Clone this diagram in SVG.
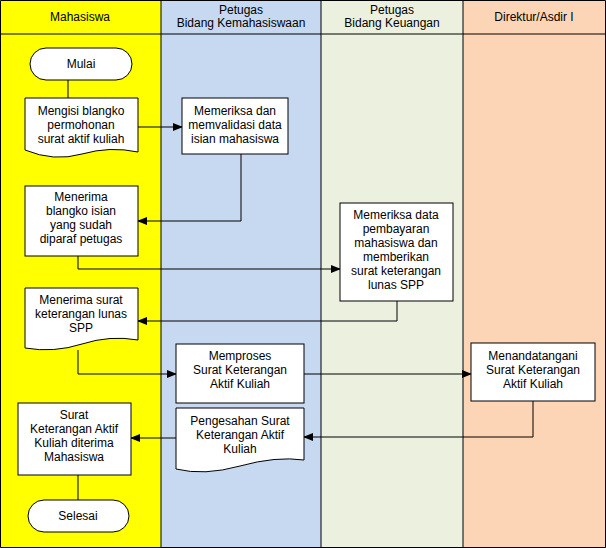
<svg xmlns="http://www.w3.org/2000/svg" width="606" height="548" viewBox="0 0 606 548">
<defs>
<style>
.b{fill:#fff;stroke:#000;stroke-width:1}
.t{font-family:"Liberation Sans",Arial,sans-serif;font-size:12px;text-anchor:middle;fill:#000}
.c{fill:none;stroke:#000;stroke-width:1}
</style>
<marker id="a" markerWidth="10" markerHeight="8" refX="9" refY="4" orient="auto" markerUnits="userSpaceOnUse"><path d="M0,0L10,4L0,8z" fill="#000"/></marker>
</defs>
<g id="lanes">
<rect x="0" y="0" width="161" height="548" fill="#ffff00"/>
<rect x="161" y="0" width="160" height="548" fill="#c6d9f1"/>
<rect x="321" y="0" width="142" height="548" fill="#ebf1de"/>
<rect x="463" y="0" width="143" height="548" fill="#fbd5b5"/>
<path d="M0.5,0.5H605.5V547.5H0.5Z M0,34H606 M161,0V548 M321,0V548 M463,0V548" class="c"/>
<text class="t" x="80" y="21">Mahasiswa</text>
<text class="t" x="241" y="14">Petugas</text><text class="t" x="241" y="27">Bidang Kemahasiswaan</text>
<text class="t" x="392" y="14">Petugas</text><text class="t" x="392" y="27">Bidang Keuangan</text>
<text class="t" x="534" y="21">Direktur/Asdir I</text>
</g>
<g id="connectors">
<path class="c" d="M68,80V98"/>
<path class="c" d="M138,127H182" marker-end="url(#a)"/>
<path class="c" d="M241,154V221H138" marker-end="url(#a)"/>
<path class="c" d="M78,256V269H340" marker-end="url(#a)"/>
<path class="c" d="M397,301V321H138" marker-end="url(#a)"/>
<path class="c" d="M78,350V374H176" marker-end="url(#a)"/>
<path class="c" d="M304,374H471" marker-end="url(#a)"/>
<path class="c" d="M533,401V437H304" marker-end="url(#a)"/>
<path class="c" d="M176,438H131" marker-end="url(#a)"/>
<path class="c" d="M78,475V500"/>
</g>
<g id="mulai"><rect class="b" x="30" y="48" width="102" height="32" rx="16"/><text class="t" x="81" y="68">Mulai</text></g>
<g id="mengisi"><path class="b" d="M25,98H138V152Q110,146 82,154T25,150Z"/><text class="t" x="81" y="115">Mengisi blangko</text><text class="t" x="81" y="129">permohonan</text><text class="t" x="81" y="143">surat aktif kuliah</text></g>
<g id="memeriksa1"><rect class="b" x="182" y="98" width="106" height="56"/><text class="t" x="235" y="115">Memeriksa dan</text><text class="t" x="235" y="129">memvalidasi data</text><text class="t" x="235" y="143">isian mahasiswa</text></g>
<g id="menerima1"><rect class="b" x="25" y="186" width="113" height="70"/><text class="t" x="81" y="201">Menerima</text><text class="t" x="81" y="215">blangko isian</text><text class="t" x="81" y="229">yang sudah</text><text class="t" x="81" y="243">diparaf petugas</text></g>
<g id="memeriksa2"><rect class="b" x="340" y="203" width="113" height="98"/><text class="t" x="396" y="219">Memeriksa data</text><text class="t" x="396" y="233">pembayaran</text><text class="t" x="396" y="247">mahasiswa dan</text><text class="t" x="396" y="261">memberikan</text><text class="t" x="396" y="275">surat keterangan</text><text class="t" x="396" y="289">lunas SPP</text></g>
<g id="menerima2"><path class="b" d="M25,288H138V340Q110,335 82,344T25,348Z"/><text class="t" x="81" y="304">Menerima surat</text><text class="t" x="81" y="318">keterangan lunas</text><text class="t" x="81" y="332">SPP</text></g>
<g id="memproses"><rect class="b" x="176" y="344" width="128" height="59"/><text class="t" x="240" y="360">Memproses</text><text class="t" x="240" y="374">Surat Keterangan</text><text class="t" x="240" y="388">Aktif Kuliah</text></g>
<g id="menandatangani"><rect class="b" x="471" y="343" width="124" height="58"/><text class="t" x="533" y="360">Menandatangani</text><text class="t" x="533" y="374">Surat Keterangan</text><text class="t" x="533" y="388">Aktif Kuliah</text></g>
<g id="surat"><rect class="b" x="18" y="403" width="113" height="72"/><text class="t" x="74" y="419">Surat</text><text class="t" x="74" y="433">Keterangan Aktif</text><text class="t" x="74" y="447">Kuliah diterima</text><text class="t" x="74" y="461">Mahasiswa</text></g>
<g id="pengesahan"><path class="b" d="M176,408H304V460Q276,456 240,466T176,469Z"/><text class="t" x="240" y="425">Pengesahan Surat</text><text class="t" x="240" y="439">Keterangan Aktif</text><text class="t" x="240" y="453">Kuliah</text></g>
<g id="selesai"><rect class="b" x="28" y="500" width="101" height="32" rx="16"/><text class="t" x="78" y="520">Selesai</text></g>
</svg>
